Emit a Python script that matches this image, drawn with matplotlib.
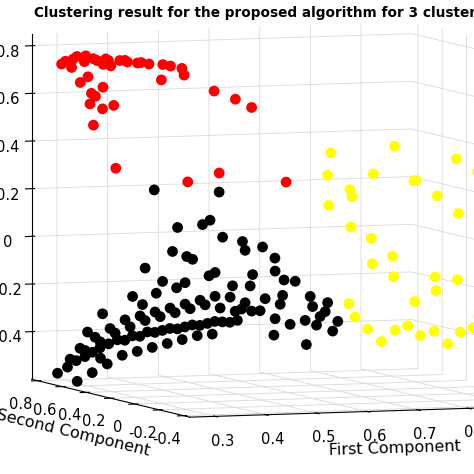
import matplotlib
matplotlib.use("Agg")
import matplotlib.pyplot as plt

# cluster 1 (red)
red_x = [0.30,0.31,0.32,0.33,0.34,0.35,0.36,0.37,0.38,0.40,0.42,0.44,0.46,0.48,0.50,0.52,0.31,0.33,0.35,0.30,0.32,0.34,0.47,0.51,0.55,0.58,0.60,0.33,0.31,0.34,0.30,0.32,0.45,0.50,0.62,0.36,0.38,0.41,0.43,0.29]
red_y = [0.78,0.76,0.77,0.75,0.78,0.76,0.77,0.74,0.76,0.75,0.77,0.74,0.76,0.73,0.75,0.74,0.70,0.72,0.68,0.73,0.65,0.70,0.70,0.68,0.60,0.55,0.50,0.60,0.62,0.55,0.55,0.45,0.40,0.35,0.30,0.72,0.74,0.75,0.73,0.77]
red_z = [0.74,0.75,0.76,0.74,0.76,0.75,0.74,0.75,0.74,0.74,0.73,0.73,0.72,0.72,0.71,0.70,0.66,0.68,0.64,0.72,0.62,0.60,0.66,0.68,0.62,0.59,0.56,0.56,0.58,0.58,0.50,0.33,0.27,0.31,0.27,0.73,0.72,0.74,0.73,0.73]

# cluster 2 (black)
blk_x = [0.27,0.28,0.29,0.30,0.31,0.32,0.33,0.34,0.35,0.36,0.37,0.38,0.39,0.40,0.41,0.42,0.43,0.44,0.45,0.46,0.47,0.48,0.49,0.50,
         0.30,0.32,0.34,0.36,0.38,0.40,0.42,0.44,0.46,0.48,0.50,0.52,0.54,0.56,0.58,0.60,0.62,0.64,
         0.33,0.37,0.41,0.45,0.49,0.53,0.57,0.61,0.39,0.43,0.47,0.51,0.55,0.35,0.44,0.48,0.52,0.56,0.60,0.63,0.31,0.42,0.46,0.50,0.54,0.58,0.62,0.65,
         0.29,0.31,0.33,0.35,0.37,0.39,0.41,0.43,0.45,0.47,0.49,0.51,0.53,0.55,0.57,0.59,0.61,0.63,0.40,0.44,0.48,0.52,0.56,0.38,0.42,0.46,0.50,0.54,
         0.28,0.30,0.32,0.34,0.36,0.38,0.40,0.42,0.44,0.46]
blk_y = [0.72,0.68,0.65,0.62,0.60,0.58,0.55,0.52,0.50,0.48,0.46,0.44,0.42,0.40,0.38,0.36,0.34,0.32,0.30,0.28,0.26,0.24,0.22,0.20,
         0.66,0.62,0.58,0.54,0.50,0.46,0.42,0.38,0.34,0.30,0.26,0.22,0.18,0.14,0.10,0.06,0.02,0.00,
         0.60,0.52,0.44,0.36,0.28,0.20,0.12,0.04,0.50,0.40,0.30,0.20,0.10,0.70,0.45,0.35,0.25,0.15,0.05,0.00,0.64,0.55,0.45,0.35,0.25,0.15,0.05,0.00,
         0.70,0.66,0.62,0.58,0.54,0.50,0.46,0.42,0.38,0.34,0.30,0.26,0.22,0.18,0.14,0.10,0.06,0.02,0.45,0.38,0.30,0.22,0.14,0.48,0.40,0.32,0.24,0.16,
         0.60,0.56,0.52,0.48,0.44,0.40,0.36,0.32,0.28,0.24]
blk_z = [-0.56,-0.53,-0.50,-0.48,-0.46,-0.44,-0.42,-0.40,-0.40,-0.38,-0.38,-0.36,-0.36,-0.35,-0.34,-0.34,-0.33,-0.32,-0.32,-0.31,-0.30,-0.30,-0.30,-0.29,
         -0.45,-0.40,-0.36,-0.32,-0.30,-0.28,-0.26,-0.24,-0.22,-0.20,-0.20,-0.22,-0.25,-0.28,-0.30,-0.28,-0.26,-0.32,
         -0.30,-0.22,-0.15,-0.05,0.05,-0.10,-0.18,-0.22,-0.10,0.08,0.12,0.04,-0.02,-0.50,-0.18,-0.12,-0.25,-0.35,-0.38,-0.20,-0.38,0.22,-0.05,0.23,-0.26,-0.12,-0.30,-0.28,
         -0.50,-0.46,-0.42,-0.38,-0.35,-0.32,-0.30,-0.28,-0.26,-0.24,-0.25,-0.26,-0.15,-0.20,-0.22,-0.12,-0.18,-0.24,-0.20,-0.15,-0.10,0.00,-0.08,-0.25,-0.02,0.10,-0.15,0.02,
         -0.58,-0.54,-0.50,-0.46,-0.44,-0.42,-0.40,-0.38,-0.36,-0.35]

# cluster 3 (yellow)
yel_x = [0.66,0.68,0.70,0.72,0.74,0.76,0.78,0.80,0.82,0.84,0.86,0.88,0.90,0.70,0.73,0.76,0.79,0.82,0.85,0.88,0.91,0.93,0.94,0.95,0.68,0.71,0.74,0.77,0.80,0.83,0.86,0.89,0.92,0.72,0.75,0.78,0.81,0.84,0.87,0.90,0.93,0.66,0.69,0.95,0.92]
yel_y = [-0.10,-0.12,-0.15,-0.18,-0.20,-0.22,-0.25,-0.28,-0.30,-0.32,-0.35,-0.38,-0.40,0.10,0.05,0.00,-0.05,-0.10,-0.15,-0.20,-0.25,-0.30,-0.35,-0.40,0.20,0.15,0.10,0.05,0.00,-0.05,-0.10,-0.15,-0.20,0.35,0.30,0.25,0.20,0.15,0.10,0.05,0.00,-0.05,0.25,-0.20,-0.30]
yel_z = [-0.25,-0.30,-0.35,-0.30,-0.28,-0.32,-0.30,-0.35,-0.30,-0.28,-0.32,-0.30,-0.35,0.10,-0.05,-0.10,-0.20,-0.15,-0.10,-0.25,-0.20,-0.15,-0.28,-0.30,0.18,0.25,0.05,-0.02,0.30,-0.10,0.40,0.35,0.30,0.38,0.20,0.30,0.42,0.28,0.22,0.15,0.10,-0.20,0.30,0.20,0.25]

fig = plt.figure(figsize=(4.74, 4.74), dpi=100)
ax = fig.add_axes([-0.255, -0.205, 1.74, 1.445], projection='3d', proj_type='ortho')
ax.set_box_aspect((3.5, 4, 3))
kw = dict(s=60, depthshade=False, edgecolors='none')
ax.scatter(blk_x, blk_y, blk_z, c='black', **kw)
ax.scatter(red_x, red_y, red_z, c='red', **kw)
ax.scatter(yel_x, yel_y, yel_z, c='yellow', **kw)
ax.set_xlim(0.25, 1.0)
ax.set_ylim(-0.45, 0.85)
ax.set_zlim(-0.6, 0.85)
ax.set_xticks([0.3,0.4,0.5,0.6,0.7,0.8,0.9])
ax.set_yticks([-0.4,-0.2,0,0.2,0.4,0.6,0.8])
ax.set_yticklabels(['-0.4','-0.2','0','0.2','0.4','0.6','0.8'])
ax.set_zticks([-0.4,-0.2,0,0.2,0.4,0.6,0.8])
ax.set_zticklabels(['-0.4','-0.2','0','0.2','0.4','0.6','0.8'])
ax.view_init(elev=5, azim=-110)
for a in (ax.xaxis, ax.yaxis, ax.zaxis):
    a.set_pane_color((1, 1, 1, 0))
    a._axinfo['grid']['color'] = (0.85, 0.85, 0.85, 1)
    a._axinfo['grid']['linewidth'] = 0.6
ax.tick_params(labelsize=10.5)
ax.set_xlabel('First Component', fontsize=11.5)
ax.set_ylabel('Second Component', fontsize=11.5)
ax.set_zlabel('Third Component', fontsize=11.5)
fig.text(0.072, 0.988, 'Clustering result for the proposed algorithm for 3 cluster problem',
         fontsize=9.8, fontweight='bold', va='top')
fig.savefig('out.png', dpi=100)
